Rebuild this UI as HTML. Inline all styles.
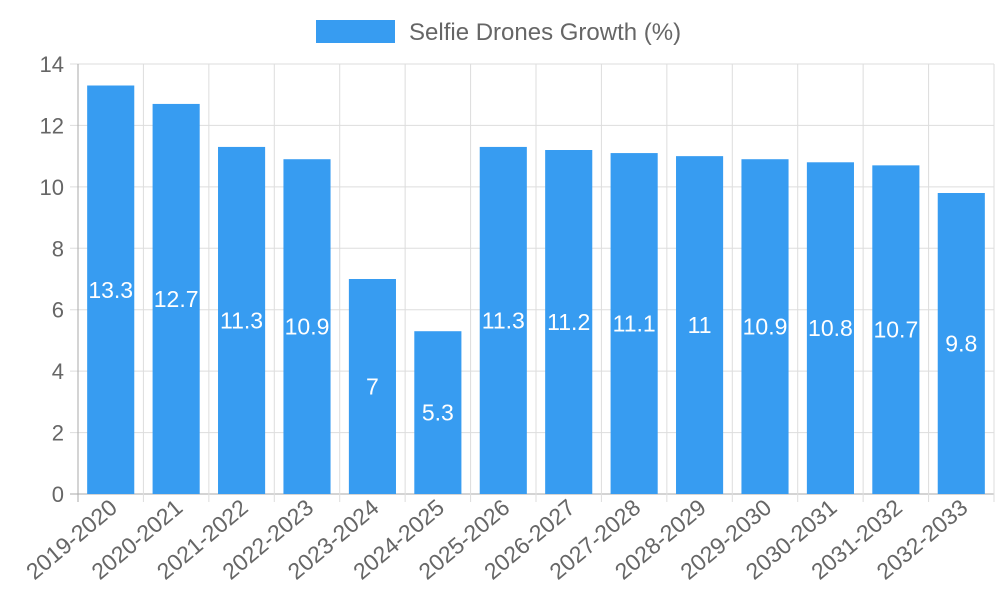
<!DOCTYPE html>
<html><head><meta charset="utf-8">
<style>
html,body{margin:0;padding:0;background:#fff;}
svg{display:block;font-family:"Liberation Sans",sans-serif;}
</style></head>
<body>
<svg id="chart" width="1000" height="600">
  <g>
    <rect x="316" y="20" width="79" height="23" fill="#379cf1"></rect>
    <text x="409" y="40" font-size="24" fill="#666">Selfie Drones Growth (%)</text>
  </g>
  <g id="grid"></g>
  <g id="bars"></g>
  <g id="axes"></g>
</svg>
<script>
const categories = ["2019-2020","2020-2021","2021-2022","2022-2023","2023-2024","2024-2025","2025-2026","2026-2027","2027-2028","2028-2029","2029-2030","2030-2031","2031-2032","2032-2033"];
const growthValues = [13.3,12.7,11.3,10.9,7,5.3,11.3,11.2,11.1,11,10.9,10.8,10.7,9.8];
const yTicks = [0,2,4,6,8,10,12,14];

const NS="http://www.w3.org/2000/svg";
const plotLeft=78, plotRight=994, plotTop=64, plotBottom=494, yMax=14;
const band=(plotRight-plotLeft)/categories.length;
function yScale(v){return plotBottom-(v/yMax)*(plotBottom-plotTop);}
function xStart(i){return plotLeft+i*band;}
function mk(tag,attrs,parent){const e=document.createElementNS(NS,tag);for(const k in attrs)e.setAttribute(k,attrs[k]);parent.appendChild(e);return e;}
const gridG=document.getElementById('grid'), barsG=document.getElementById('bars'), axesG=document.getElementById('axes');

yTicks.forEach(t=>{
  const l=mk('line',{x1:plotLeft-8,x2:plotRight,y1:yScale(t),y2:yScale(t),stroke:t===0?'#aaa':'#ddd','stroke-width':1},gridG);
  
  
  const tx=mk('text',{x:plotLeft-14,y:yScale(t)+8,'text-anchor':'end','font-size':22,fill:'#666'},axesG);
  tx.textContent=t;
  
  
});
for(let i=0;i<=categories.length;i++){
  const x=xStart(i);
  const l=mk('line',{x1:x,x2:x,y1:plotTop,y2:plotBottom+8,stroke:i===0?'#aaa':'#ddd','stroke-width':1},gridG);
  
  
}
categories.forEach((c,i)=>{
  const bw=band*0.72;
  const bx=xStart(i)+(band-bw)/2;
  const v=growthValues[i];
  const r=mk('rect',{x:bx,y:yScale(v),width:bw,height:plotBottom-yScale(v),fill:'#379cf1'},barsG);
  
  
  const lb=mk('text',{x:bx+bw/2,y:(yScale(v)+plotBottom)/2+8,'text-anchor':'middle','font-size':23,fill:'#fff'},barsG);
  lb.textContent=v;
  
  
  const cx=xStart(i)+band/2;
  const xt=mk('text',{x:0,y:0,'text-anchor':'end','font-size':23,fill:'#666',transform:`translate(${cx+8},${plotBottom+16}) rotate(-40)`},axesG);
  xt.textContent=c;
  
  
});
</script>
</body></html>
